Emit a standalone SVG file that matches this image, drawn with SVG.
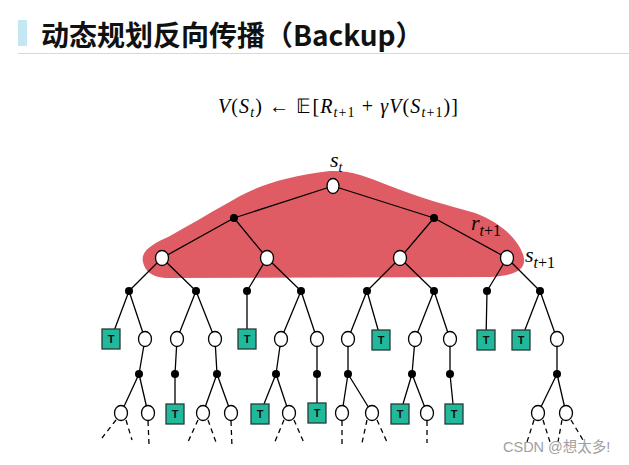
<svg xmlns="http://www.w3.org/2000/svg" width="629" height="465" viewBox="0 0 629 465">
<style>
.e{stroke:#000;stroke-width:1.3;fill:none}
.d{stroke:#000;stroke-width:1.3;fill:none;stroke-dasharray:5,4}
.w{fill:#fff;stroke:#000;stroke-width:1.3}
.b{fill:#000}
.t{fill:#20b99b;stroke:#2a3a36;stroke-width:1.3}
.tl{font-family:"Liberation Sans",Arial,sans-serif;font-weight:bold;font-size:11px;fill:#111;text-anchor:middle}
.m{font-family:"Liberation Serif","Times New Roman",serif;font-style:italic;fill:#000}
</style>
<rect width="629" height="465" fill="#fff"/>
<g id="title">
<rect x="18" y="20" width="9" height="26" fill="#c5e6f3"/>
<text x="41" y="46" font-family="'Noto Sans CJK SC','Noto Sans',sans-serif" font-weight="bold" font-size="28" fill="#111">动态规划反向传播（Backup）</text>
<line x1="18" y1="53.5" x2="629" y2="53.5" stroke="#d8d8d8" stroke-width="1.2"/>
</g>
<g id="formula" font-family="'Liberation Serif','Times New Roman',serif" font-size="20" fill="#000">
<text x="218" y="113" textLength="240" lengthAdjust="spacing"><tspan font-style="italic">V</tspan>(<tspan font-style="italic">S</tspan><tspan font-style="italic" font-size="14" dy="4">t</tspan><tspan dy="-4">) ← 𝔼[</tspan><tspan font-style="italic">R</tspan><tspan font-style="italic" font-size="14" dy="4">t</tspan><tspan font-size="14">+1</tspan><tspan dy="-4"> + </tspan><tspan font-style="italic">γV</tspan>(<tspan font-style="italic">S</tspan><tspan font-style="italic" font-size="14" dy="4">t</tspan><tspan font-size="14">+1</tspan><tspan dy="-4">)]</tspan></text>
</g>
<path id="highlight" d="M143,262 C140,250 155,243 170,236 C195,222 215,210 240,196 C262,184 290,176 330,171 C350,170 365,176 390,186 C420,198 450,206 475,213 C500,222 520,240 524,258 C526,272 510,276 490,277 L170,278 C150,278 145,270 143,262 Z" fill="#e05c65"/>
<g id="connectors">
<path class="e" d="M333,186L234,218M333,186L434,218M234,218L162,258M234,218L267,258M434,218L400,258M434,218L507,258
M162,258L129,291M162,258L196,291M267,258L247,291M267,258L301,291M400,258L367,291M400,258L434,291M507,258L487,291M507,258L540,291
M129,291L111,339M129,291L145,339M196,291L177,339M196,291L215,339M247,291L247,339M301,291L281,339M301,291L317,339
M367,291L348,339M367,291L381,340M434,291L415,339M434,291L450,339M487,291L486,340M540,291L521,340M540,291L557,339
M145,339L139,374M177,339L175,374M215,339L217,374M281,339L276,374M317,339L317,374M348,339L348,374M415,339L412,374M450,339L450,374M557,339L557,374
M139,374L121,413M139,374L148,413M175,374L175,414M217,374L203,413M217,374L231,413M276,374L260,414M276,374L289,413M317,374L317,414
M348,374L342,413M348,374L372,413M412,374L400,414M412,374L427,413M450,374L454,414M557,374L538,413M557,374L566,413"/>
<path class="d" d="M116,420L102,438M126,420L132,440M148,421L149,444M198,420L187,444M208,420L217,445M231,421L232,447M284,420L274,444M294,420L304,443M342,421L342,447M367,420L362,443M377,420L387,442M427,421L427,443M534,420L527,442M543,420L550,442M562,420L558,442M571,420L583,440"/>
</g>
<g id="root"><ellipse class="w" cx="333" cy="186" rx="6" ry="7.5"/></g>
<g id="labels">
<text class="m" x="330" y="167" font-size="22">s<tspan font-size="14" dy="5">t</tspan></text>
<text class="m" x="471" y="230" font-size="22">r<tspan font-size="16" dy="6">t</tspan><tspan font-style="normal" font-size="16">+1</tspan></text>
<text class="m" x="525" y="262" font-size="22">s<tspan font-size="16" dy="6">t</tspan><tspan font-style="normal" font-size="16">+1</tspan></text>
</g>
<g id="actions1"><circle class="b" cx="234" cy="218" r="4"/><circle class="b" cx="434" cy="218" r="4"/></g>
<g id="states2">
<ellipse class="w" cx="162" cy="258" rx="6.5" ry="7.5"/><ellipse class="w" cx="267" cy="258" rx="6.5" ry="7.5"/><ellipse class="w" cx="400" cy="258" rx="6.5" ry="7.5"/><ellipse class="w" cx="507" cy="258" rx="6.5" ry="7.5"/>
</g>
<g id="actions3">
<circle class="b" cx="129" cy="291" r="4"/><circle class="b" cx="196" cy="291" r="4"/><circle class="b" cx="247" cy="291" r="4"/><circle class="b" cx="301" cy="291" r="4"/><circle class="b" cx="367" cy="291" r="4"/><circle class="b" cx="434" cy="291" r="4"/><circle class="b" cx="487" cy="291" r="4"/><circle class="b" cx="540" cy="291" r="4"/>
</g>
<g id="states4">
<ellipse class="w" cx="145" cy="339" rx="6.5" ry="7.5"/><ellipse class="w" cx="177" cy="339" rx="6.5" ry="7.5"/><ellipse class="w" cx="215" cy="339" rx="6.5" ry="7.5"/><ellipse class="w" cx="281" cy="339" rx="6.5" ry="7.5"/><ellipse class="w" cx="317" cy="339" rx="6.5" ry="7.5"/><ellipse class="w" cx="348" cy="339" rx="6.5" ry="7.5"/><ellipse class="w" cx="415" cy="339" rx="6.5" ry="7.5"/><ellipse class="w" cx="450" cy="339" rx="6.5" ry="7.5"/><ellipse class="w" cx="557" cy="339" rx="6.5" ry="7.5"/>
</g>
<g id="terminals4">
<rect class="t" x="102" y="329" width="18" height="20"/><text class="tl" x="111" y="343">T</text>
<rect class="t" x="238" y="329" width="18" height="20"/><text class="tl" x="247" y="343">T</text>
<rect class="t" x="372" y="330" width="18" height="20"/><text class="tl" x="381" y="344">T</text>
<rect class="t" x="477" y="330" width="18" height="20"/><text class="tl" x="486" y="344">T</text>
<rect class="t" x="512" y="330" width="18" height="20"/><text class="tl" x="521" y="344">T</text>
</g>
<g id="actions5">
<circle class="b" cx="139" cy="374" r="4"/><circle class="b" cx="175" cy="374" r="4"/><circle class="b" cx="217" cy="374" r="4"/><circle class="b" cx="276" cy="374" r="4"/><circle class="b" cx="317" cy="374" r="4"/><circle class="b" cx="348" cy="374" r="4"/><circle class="b" cx="412" cy="374" r="4"/><circle class="b" cx="450" cy="374" r="4"/><circle class="b" cx="557" cy="374" r="4"/>
</g>
<g id="states6">
<ellipse class="w" cx="121" cy="413" rx="6.5" ry="7.5"/><ellipse class="w" cx="148" cy="413" rx="6.5" ry="7.5"/><ellipse class="w" cx="203" cy="413" rx="6.5" ry="7.5"/><ellipse class="w" cx="231" cy="413" rx="6.5" ry="7.5"/><ellipse class="w" cx="289" cy="413" rx="6.5" ry="7.5"/><ellipse class="w" cx="342" cy="413" rx="6.5" ry="7.5"/><ellipse class="w" cx="372" cy="413" rx="6.5" ry="7.5"/><ellipse class="w" cx="427" cy="413" rx="6.5" ry="7.5"/><ellipse class="w" cx="538" cy="413" rx="6.5" ry="7.5"/><ellipse class="w" cx="566" cy="413" rx="6.5" ry="7.5"/>
</g>
<g id="terminals6">
<rect class="t" x="166" y="404" width="18" height="20"/><text class="tl" x="175" y="418">T</text>
<rect class="t" x="251" y="404" width="18" height="20"/><text class="tl" x="260" y="418">T</text>
<rect class="t" x="308" y="403" width="18" height="20"/><text class="tl" x="317" y="417">T</text>
<rect class="t" x="391" y="404" width="18" height="20"/><text class="tl" x="400" y="418">T</text>
<rect class="t" x="445" y="404" width="18" height="20"/><text class="tl" x="454" y="418">T</text>
</g>
<g id="watermark"><text x="503" y="452" font-family="'Liberation Sans','Noto Sans CJK SC',sans-serif" font-size="14.5" fill="#a0a0a0">CSDN @想太多!</text></g>
</svg>
